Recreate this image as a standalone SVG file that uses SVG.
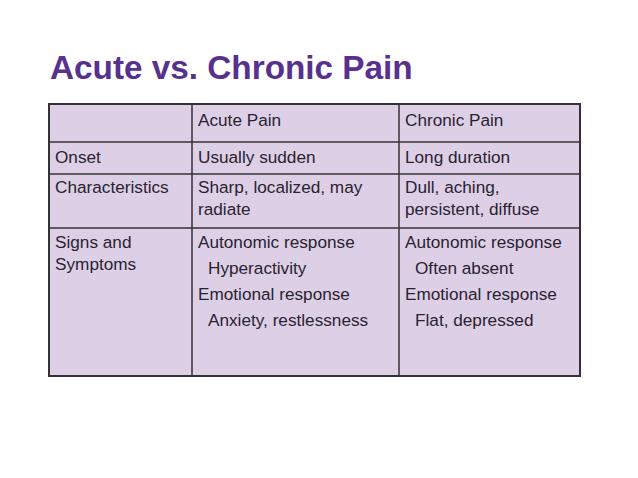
<svg xmlns="http://www.w3.org/2000/svg" width="638" height="478" viewBox="0 0 638 478">
<style>
.t{font-family:"Liberation Sans",Arial,sans-serif;font-size:17.2px;fill:#2a2230}
.l{stroke:#333;stroke-width:1.5}
</style>
<rect width="638" height="478" fill="#fff"/>
<text x="50" y="79" font-family="Liberation Sans,Arial,sans-serif" font-size="33.3" font-weight="bold" fill="#58318f">Acute vs. Chronic Pain</text>
<g id="table">
<rect x="49" y="104" width="531" height="272" fill="#ddd0e6" stroke="#333" stroke-width="2"/>
<line class="l" x1="192" y1="104" x2="192" y2="376"/>
<line class="l" x1="399" y1="104" x2="399" y2="376"/>
<line class="l" x1="49" y1="142" x2="580" y2="142"/>
<line class="l" x1="49" y1="174" x2="580" y2="174"/>
<line class="l" x1="49" y1="228" x2="580" y2="228"/>
</g>
<g id="texts">
<text class="t" x="198" y="126">Acute Pain</text>
<text class="t" x="405" y="126">Chronic Pain</text>
<text class="t" x="55" y="163">Onset</text>
<text class="t" x="198" y="163">Usually sudden</text>
<text class="t" x="405" y="163">Long duration</text>
<text class="t" x="55" y="193">Characteristics</text>
<text class="t" x="198" y="193">Sharp, localized, may</text>
<text class="t" x="198" y="215">radiate</text>
<text class="t" x="405" y="193">Dull, aching,</text>
<text class="t" x="405" y="215">persistent, diffuse</text>
<text class="t" x="55" y="248">Signs and</text>
<text class="t" x="55" y="270">Symptoms</text>
<text class="t" x="198" y="248">Autonomic response</text>
<text class="t" x="208" y="274">Hyperactivity</text>
<text class="t" x="198" y="300">Emotional response</text>
<text class="t" x="208" y="326">Anxiety, restlessness</text>
<text class="t" x="405" y="248">Autonomic response</text>
<text class="t" x="415" y="274">Often absent</text>
<text class="t" x="405" y="300">Emotional response</text>
<text class="t" x="415" y="326">Flat, depressed</text>
</g>
</svg>
